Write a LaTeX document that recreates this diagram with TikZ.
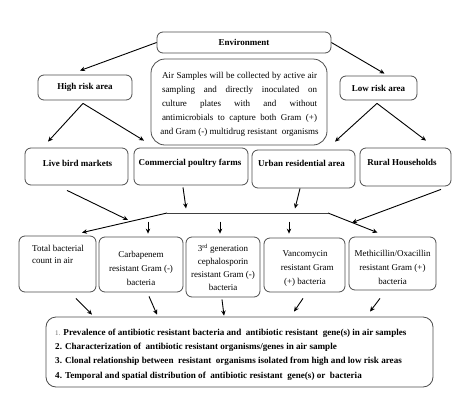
\documentclass[tikz,border=0pt]{standalone}
\usepackage{fontspec}
\setmainfont{Liberation Serif}
\usetikzlibrary{arrows.meta,calc}
\begin{document}
\begin{tikzpicture}[x=1pt,y=-1pt,
  box/.style={draw=black!70, line width=0.8pt, rounded corners=6pt, inner sep=0pt},
  arr/.style={-{Stealth[length=5pt,width=4.5pt]}, line width=0.9pt},
  mline/.style={line width=0.9pt, black!75},
  bl/.style={font=\fontsize{9}{11}\selectfont\bfseries, inner sep=0pt},
  tx/.style={font=\fontsize{9}{14}\selectfont, inner sep=0pt, align=center},
  bt/.style={font=\fontsize{9.1}{14.3}\selectfont\bfseries, inner sep=0pt, align=left}]
\useasboundingbox (0,0) rectangle (474,405);

% top level
\node[box, minimum width=174pt, minimum height=21pt, bl] (env) at (244,42.5) {Environment};
\node[box, rounded corners=14pt, minimum width=176pt, minimum height=86pt] (air) at (239,102) {};
\node[tx] (airtxt) at (239.5,104) {%
  \makebox[155pt][s]{Air Samples will be collected by active air}\\
  \makebox[155pt][s]{sampling and directly inoculated on}\\
  \makebox[155pt][s]{culture plates with and without}\\
  \makebox[155pt][s]{antimicrobials to capture both Gram (+)}\\
  and Gram (-) multidrug resistant\ \ organisms};
\node[box, minimum width=94pt, minimum height=25pt, bl] (hr) at (85,87.5) {High risk area};
\node[box, minimum width=77pt, minimum height=24pt, bl] (lr) at (378.5,88) {Low risk area};

% second row
\node[box, minimum width=103pt, minimum height=37pt] (lbm) at (76.5,166.5) {};
\node[box, minimum width=114pt, minimum height=37pt] (cpf) at (191,166.5) {};
\node[box, minimum width=103pt, minimum height=38pt] (ura) at (303.5,169) {};
\node[box, minimum width=91pt, minimum height=38pt] (rh) at (405.5,167) {};
\node[bl] (lbmt) at (77.5,163) {Live bird markets};
\node[bl] (cpft) at (190,163) {Commercial poultry farms};
\node[bl] (urat) at (301.5,163) {Urban residential area};
\node[bl] (rht) at (402,162) {Rural Households};

% third row
\node[box, minimum width=77pt, minimum height=56pt] (tbc) at (57.5,264) {};
\node[box, minimum width=84pt, minimum height=55pt] (cb) at (141,264.5) {};
\node[box, minimum width=74pt, minimum height=60pt] (g3) at (223,267) {};
\node[box, minimum width=81pt, minimum height=54pt] (vb) at (304.5,265) {};
\node[box, minimum width=87pt, minimum height=53pt] (mrb) at (392.5,263.5) {};
\node[tx, align=left, font=\fontsize{9}{12}\selectfont, anchor=north west] (tbct) at (32,245) {Total bacterial\\count in air};
\node[tx] (cbt) at (141,268.5) {Carbapenem\\resistant Gram (-)\\bacteria};
\node[tx, font=\fontsize{9}{13}\selectfont] (g3t) at (223,267.5) {3\textsuperscript{rd} generation\\cephalosporin\\resistant Gram (-)\\bacteria};
\node[tx] (vbt) at (305,268.5) {Vancomycin\\\ \ resistant Gram\\(+) bacteria};
\node[tx] (mrbt) at (392.5,267) {Methicillin/Oxacillin\\resistant Gram (+)\\bacteria};

% bottom box
\node[box, rounded corners=10pt, minimum width=387pt, minimum height=70pt] (bot) at (239.5,352) {};
\node[bt, anchor=west] (bott) at (55,354.5) {%
  {\mdseries\color{black!60}\fontsize{7}{8}\selectfont 1.} Prevalence of antibiotic resistant bacteria and\ \ antibiotic resistant\ \ gene(s) in air samples\\
  2. Characterization of\ \ antibiotic resistant\ organisms/genes in air sample\\
  3. Clonal relationship between\ \ resistant\ \ organisms isolated from high and low risk areas\\
  4. Temporal and spatial distribution of\ \ antibiotic resistant\ \ gene(s) or\ \ bacteria};

% arrows from Environment
\draw[arr] (env.west) -- ($(hr.north)+(-5,-4)$);
\draw[arr] (env.east) -- ($(lr.north)+(6,-2)$);

% high / low risk splits
\coordinate (hA) at ($(hr.south)+(-2,3)$);
\coordinate (lA) at ($(lr.south)+(-1.5,3)$);
\draw[arr] (hA) -- ($(lbm.north)+(-28.5,-6)$);
\draw[arr] (hA) -- ($(cpf.north)+(-47,-7)$);
\draw[arr] (lA) -- ($(ura.north)+(31.5,-8)$);
\draw[arr] (lA) -- ($(rh.north)+(20.5,-7)$);

% merge bar
\coordinate (mL) at (167,213);
\coordinate (mR) at (328,213);
\draw[mline] (mL) -- (mR);
\draw[arr] (mL) -- ($(tbc.north)+(24.5,-3)$);
\draw[arr] (mR) -- ($(mrb.north)+(-15,-4)$);

% second row into bar
\draw[arr] ($(lbm.south)+(-9.5,5)$) -- ($(mL)+(-39,7)$);
\draw[arr] ($(cpf.south)+(-8,2)$) -- ($(cpf.south)+(-5,23)$);
\draw[arr] ($(ura.south)+(-3.5,0)$) -- ($(ura.south)+(-8.5,20)$);
\draw[arr] ($(rh.south)+(35.5,3)$) -- ($(mR)+(24,9.6)$);

% short arrows to third row
\draw[arr] ($(cb.north)+(7,-15)$) -- ($(cb.north)+(7,-3)$);
\draw[arr] ($(g3.north)+(-3,-15)$) -- ($(g3.north)+(-3,-3)$);
\draw[arr] ($(vb.north)+(-15.5,-16)$) -- ($(vb.north)+(-15.5,-4)$);

% third row into bottom box
\draw[arr] ($(tbc.south)+(18.5,6)$) -- ($(bot.north)+(-147.5,-2)$);
\draw[arr] ($(cb.south)+(8,4)$) -- ($(bot.north)+(-82.5,-2)$);
\draw[arr] ($(g3.south)+(-1,2)$) -- ($(bot.north)+(-15.5,-1)$);
\draw[arr] ($(vb.south)+(-1.5,6)$) -- ($(bot.north)+(54.5,-5)$);
\draw[arr] ($(mrb.south)+(-12.5,8)$) -- ($(bot.north)+(130.5,-5)$);
\end{tikzpicture}
\end{document}
